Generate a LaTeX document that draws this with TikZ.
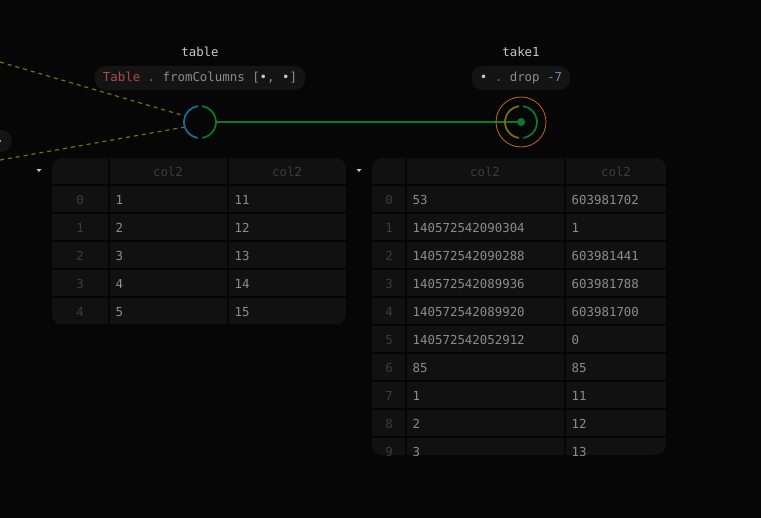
\documentclass[tikz,border=0pt]{standalone}
\usepackage{fontspec}
\setmonofont{DejaVu Sans Mono}
\begin{document}
\begin{tikzpicture}[x=0.75pt,y=-0.75pt,font=\ttfamily\fontsize{9.3}{10}\selectfont]
\definecolor{bg}{HTML}{060606}
\definecolor{pill}{HTML}{141414}
\definecolor{cell}{HTML}{111111}
\definecolor{dim}{HTML}{3C3C3C}
\definecolor{val}{HTML}{8C8C8C}
\definecolor{lab}{HTML}{C8C8C8}
\definecolor{kw}{HTML}{B04A4A}
\definecolor{num}{HTML}{6A8AAA}
\definecolor{gr}{HTML}{0A7A2A}
\definecolor{bl}{HTML}{1A6A9A}
\definecolor{ol}{HTML}{7A7010}
\definecolor{org}{HTML}{C06A10}
\tikzset{pillbox/.style={fill=pill,rounded corners=8pt,minimum height=18pt,inner xsep=6pt},
 lbl/.style={text=lab},
 dim/.style={text=dim,anchor=center},
 val/.style={text=val,anchor=west}}
\fill[bg] (0,0) rectangle (761,518);
\useasboundingbox (0,0) rectangle (761,518);
% left partial node
\fill[pill,rounded corners=8pt] (-30,130) rectangle (12,152);
\fill[lab] (0,141) circle (1.2);
% dashed edges
\coordinate (e1) at (0,62); \coordinate (e2) at (0,160);
\draw[ol,dashed,line width=0.9pt] (e1) -- (185,116);
\draw[ol,dashed,line width=0.9pt] (e2) -- (185,127);
% labels
\node[lbl] (t1) at (200,52) {table};
\node[pillbox] (p1) at (200,78) {\textcolor{kw}{Table .} \textcolor{val}{fromColumns [\textcolor{lab}{•}, \textcolor{lab}{•}]}};
\node[lbl] (t2) at (521,52) {take1};
\node[pillbox] (p2) at (521,78) {\textcolor{lab}{•} \textcolor{kw}{.} \textcolor{val}{drop} \textcolor{num}{-7}};
% node 1
\coordinate (n1) at (200,122);
\draw[bl,line width=1.3pt] ([shift={(97:16)}]n1) arc[start angle=97,end angle=263,radius=16];
\draw[gr,line width=1.3pt] ([shift={(83:16)}]n1) arc[start angle=83,end angle=-83,radius=16];
% node 2
\coordinate (n2) at (521,122);
\draw[gr,line width=1pt] ([shift={(0:16)}]n1) -- (n2);
\draw[org,line width=0.6pt] (n2) circle (25);
\draw[ol,line width=1.3pt] ([shift={(97:16)}]n2) arc[start angle=97,end angle=263,radius=16];
\draw[gr,line width=1.3pt] ([shift={(83:16)}]n2) arc[start angle=83,end angle=-83,radius=16];
\fill[gr] (n2) circle (4);
% triangles
\fill[lab] (36.5,169) -- (41.5,169) -- (39,172) -- cycle;
\fill[lab] (356.5,169) -- (361.5,169) -- (359,172) -- cycle;
% table 1
\begin{scope}
\clip[rounded corners=8pt] (52,158) rectangle (346,325);
\foreach \i in {0,...,5}{
  \pgfmathsetmacro\ya{158+28*\i}\pgfmathsetmacro\yb{\ya+26}
  \fill[cell] (52,\ya) rectangle (108,\yb);
  \fill[cell] (110,\ya) rectangle (227,\yb);
  \fill[cell] (229,\ya) rectangle (346,\yb);
}
\end{scope}
\node[dim] at (168,172) {col2};
\node[dim] at (287,172) {col2};
\foreach \i/\a/\b in {0/1/11,1/2/12,2/3/13,3/4/14,4/5/15}{
  \pgfmathsetmacro\y{200+28*\i}
  \node[dim] at (80,\y) {\i};
  \node[val] at (111,\y) {\a};
  \node[val] at (230,\y) {\b};
}
% table 2
\begin{scope}
\clip[rounded corners=8pt] (372,158) rectangle (666,455);
\foreach \i in {0,...,10}{
  \pgfmathsetmacro\ya{158+28*\i}\pgfmathsetmacro\yb{\ya+26}
  \fill[cell] (372,\ya) rectangle (405,\yb);
  \fill[cell] (407,\ya) rectangle (564,\yb);
  \fill[cell] (566,\ya) rectangle (666,\yb);
}
\node[dim] at (485,172) {col2};
\node[dim] at (616,172) {col2};
\foreach \i/\a/\b in {0/53/603981702,1/140572542090304/1,2/140572542090288/603981441,3/140572542089936/603981788,4/140572542089920/603981700,5/140572542052912/0,6/85/85,7/1/11,8/2/12,9/3/13}{
  \pgfmathsetmacro\y{200+28*\i}
  \node[dim] at (389,\y) {\i};
  \node[val] at (408,\y) {\a};
  \node[val] at (567,\y) {\b};
}
\end{scope}
\end{tikzpicture}
\end{document}
